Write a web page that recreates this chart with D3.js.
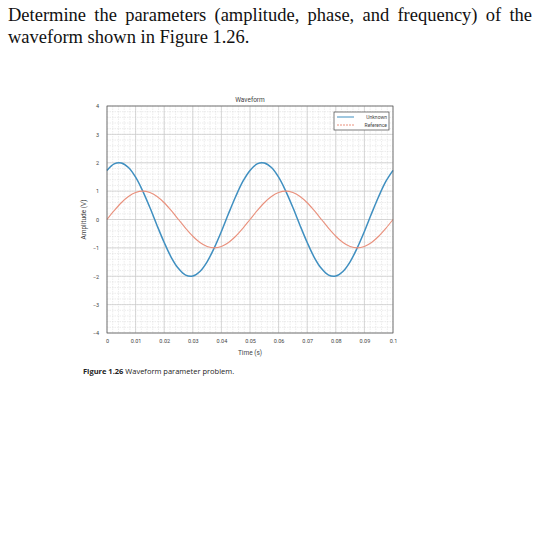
<!DOCTYPE html>
<html><head><meta charset="utf-8">
<script src="https://cdn.jsdelivr.net/npm/d3@7"></script>
<style>
body{margin:0;background:#fff;width:560px;height:536px;overflow:hidden}
#q{position:absolute;left:8px;top:4px;width:524px;font-family:"Liberation Serif","DejaVu Serif",serif;font-size:18.5px;line-height:22px;text-align:justify;text-align-last:left;color:#111}
</style></head><body>
<div id="q">Determine the parameters (amplitude, phase, and frequency) of the waveform shown in Figure 1.26.</div>
<svg id="c" width="560" height="536" style="position:absolute;left:0;top:0"></svg>
<script>
// samples every 2.5 ms
var times = d3.range(41).map(function (k) { return k * 0.0025; });
var unknown = [1.73,1.96,1.99,1.83,1.49,1.0,0.42,-0.21,-0.81,-1.34,-1.73,-1.96,-1.99,-1.83,-1.49,-1.0,-0.42,0.21,0.81,1.34,
               1.73,1.96,1.99,1.83,1.49,1.0,0.42,-0.21,-0.81,-1.34,-1.73,-1.96,-1.99,-1.83,-1.49,-1.0,-0.42,0.21,0.81,1.34,1.73];
var reference = [0,0.31,0.59,0.81,0.95,1,0.95,0.81,0.59,0.31,0,-0.31,-0.59,-0.81,-0.95,-1,-0.95,-0.81,-0.59,-0.31,
                 0,0.31,0.59,0.81,0.95,1,0.95,0.81,0.59,0.31,0,-0.31,-0.59,-0.81,-0.95,-1,-0.95,-0.81,-0.59,-0.31,0];
var xTicks = [0,0.01,0.02,0.03,0.04,0.05,0.06,0.07,0.08,0.09,0.1];
var yTicks = [-4,-3,-2,-1,0,1,2,3,4];
var seriesNames = ['Unknown','Reference'];
var colors = ['#3f8fc0','#e9907c'];

var svg = d3.select('#c');
var L = 107, R = 393, T = 106, B = 333;
var x = d3.scaleLinear().domain([0,0.1]).range([L,R]);
var y = d3.scaleLinear().domain([-4,4]).range([B,T]);
var font = 'Roboto, "Liberation Sans", sans-serif';

// minor grid
var g = svg.append('g');
d3.range(0,0.1001,0.002).forEach(function (v) {
  g.append('line').attr('x1',x(v)).attr('x2',x(v)).attr('y1',T).attr('y2',B)
    .attr('stroke','#d8d8d8').attr('stroke-width',0.5).attr('stroke-dasharray','1.5,1');
});
d3.range(-4,4.001,0.2).forEach(function (v) {
  g.append('line').attr('x1',L).attr('x2',R).attr('y1',y(v)).attr('y2',y(v))
    .attr('stroke','#d8d8d8').attr('stroke-width',0.5).attr('stroke-dasharray','1.5,1');
});
// major grid
xTicks.forEach(function (v) {
  g.append('line').attr('x1',x(v)).attr('x2',x(v)).attr('y1',T).attr('y2',B).attr('stroke','#c8c8c8').attr('stroke-width',0.7);
});
yTicks.forEach(function (v) {
  g.append('line').attr('x1',L).attr('x2',R).attr('y1',y(v)).attr('y2',y(v)).attr('stroke','#c8c8c8').attr('stroke-width',0.7);
});

var line = d3.line().x(function (d) { return x(d[0]); }).y(function (d) { return y(d[1]); }).curve(d3.curveCatmullRom);
[unknown, reference].forEach(function (vals, i) {
  svg.append('path').datum(times.map(function (t, k) { return [t, vals[k]]; }))
    .attr('d', line).attr('fill','none').attr('stroke',colors[i]).attr('stroke-width', i ? 1.1 : 1.5);
});

svg.append('rect').attr('x',L).attr('y',T).attr('width',R-L).attr('height',B-T)
  .attr('fill','none').attr('stroke','#555').attr('stroke-width',0.7);

var xa = svg.append('g').attr('transform','translate(0,'+B+')')
  .call(d3.axisBottom(x).tickValues(xTicks).tickSize(0).tickPadding(6).tickFormat(function (d) { return d === 0 ? '0' : d3.format('.2~f')(d); }));
var ya = svg.append('g').attr('transform','translate('+L+',0)')
  .call(d3.axisLeft(y).tickValues(yTicks).tickSize(0).tickPadding(8).tickFormat(function (d) { return d < 0 ? '\u2212' + (-d) : d; }));
[xa, ya].forEach(function (a) {
  a.select('.domain').remove();
  a.selectAll('text').attr('font-family',font).attr('font-size',5.5).attr('fill','#444');
});

svg.append('text').attr('x',(L+R)/2).attr('y',T-4).attr('text-anchor','middle')
  .attr('font-family',font).attr('font-size',6.5).attr('fill','#444').text('Waveform');
svg.append('text').attr('x',(L+R)/2).attr('y',B+22).attr('text-anchor','middle')
  .attr('font-family',font).attr('font-size',6.5).attr('fill','#444').text('Time (s)');
svg.append('text').attr('transform','translate(86,'+((T+B)/2)+') rotate(-90)').attr('text-anchor','middle')
  .attr('font-family',font).attr('font-size',6.5).attr('fill','#444').text('Amplitude (V)');

// legend
var lg = svg.append('g').attr('transform','translate(334,112)');
lg.append('rect').attr('width',55).attr('height',18).attr('fill','#fff').attr('stroke','#444').attr('stroke-width',0.7);
seriesNames.forEach(function (n, i) {
  lg.append('line').attr('x1',3).attr('x2',20).attr('y1',5+i*8).attr('y2',5+i*8)
    .attr('stroke',colors[i]).attr('stroke-width',1).attr('stroke-dasharray', i ? '2,1' : null);
  lg.append('text').attr('x',53).attr('y',7+i*8).attr('text-anchor','end')
    .attr('font-family',font).attr('font-size',5).attr('fill','#444').text(n);
});

var cap = svg.append('text').attr('x',83).attr('y',374).attr('font-family','"Open Sans","Liberation Sans",sans-serif')
  .attr('font-size',7.5).attr('fill','#222');
cap.append('tspan').attr('font-weight','bold').text('Figure 1.26');
cap.append('tspan').text('  Waveform parameter problem.');
</script>
</body></html>
